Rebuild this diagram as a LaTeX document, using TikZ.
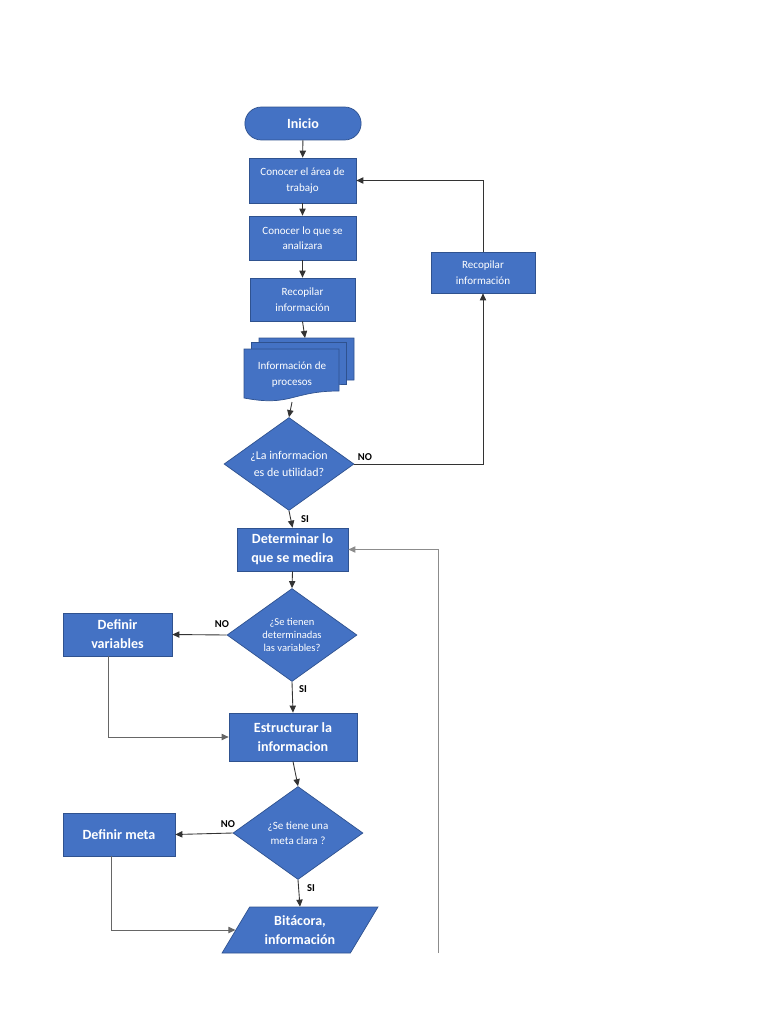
\documentclass[tikz,border=0pt]{standalone}
\usepackage{fontspec}
\setmainfont{Carlito}
\usepackage{tikz}
\usetikzlibrary{shapes, arrows.meta, positioning, calc}
\definecolor{flowblue}{RGB}{68,114,196}
\definecolor{flowedge}{RGB}{47,82,143}
\newcommand{\smalltxt}{\fontsize{6.3}{8.8}\selectfont}
\newcommand{\bigtxt}{\fontsize{8}{10.8}\selectfont\bfseries}
\newcommand{\docpage}[2]{%
  \draw[flowedge, fill=flowblue, line width=0.4pt, shift={(#1,#2)}]
    (244,349) -- (339,349) -- (339,391)
    .. controls (291.5,391) and (291.5,407) .. (244,398) -- cycle;}

\begin{document}
\begin{tikzpicture}[x=0.02cm, y=-0.02cm,
  proc/.style={rectangle, draw=flowedge, fill=flowblue, line width=0.4pt, text=white, align=center, inner sep=1pt, font=\smalltxt},
  big/.style={proc, font=\bigtxt},
  term/.style={rounded rectangle, draw=flowedge, fill=flowblue, line width=0.4pt, text=white, font=\bigtxt, minimum width=2.44cm, minimum height=0.66cm},
  dec/.style={diamond, aspect=1.4, draw=flowedge, fill=flowblue, line width=0.4pt, text=white, align=center, inner sep=0pt, font=\smalltxt, minimum width=2.6cm, minimum height=1.86cm},
  inout/.style={trapezium, trapezium left angle=61, trapezium right angle=119, trapezium stretches=true, draw=flowedge, fill=flowblue, line width=0.4pt, text=white, align=center, font=\bigtxt, minimum width=3.12cm, minimum height=0.92cm},
  lbl/.style={font=\fontsize{6}{7}\selectfont\bfseries, inner sep=0pt},
  arr/.style={-{Triangle[length=4pt, width=3.6pt]}, line width=0.5pt, black!80}
]
\useasboundingbox (0,0) rectangle (768,1024);

% main column
\node[term, minimum width=2.56cm] (ini) at (303,123.5) {Inicio};
\node[proc, minimum width=2.14cm, minimum height=0.9cm] (con1) at (302.5,180.5) {Conocer el área de\\trabajo};
\node[proc, minimum width=2.14cm, minimum height=0.88cm] (con2) at (302.5,238) {Conocer lo que se\\analizara};
\node[proc, minimum width=2.1cm, minimum height=0.86cm] (rec1) at (302.5,299.5) {Recopilar\\información};

% stacked documents
\docpage{15}{-11}
\docpage{7.5}{-6.5}
\docpage{0}{0}
\node[font=\smalltxt, text=white, align=center] (docs) at (292,374.5) {Información de\\procesos};
\coordinate (docsin) at (305,338);
\coordinate (docsout) at (292,402);

\node[dec, font=\fontsize{6.8}{9.6}\selectfont] (dec1) at (289,464) {¿La informacion\\es de utilidad?};
\node[proc, minimum width=2.08cm, minimum height=0.82cm] (rec2) at (483,272.5) {Recopilar\\información};

\node[big, minimum width=2.22cm, minimum height=0.86cm] (det) at (292.5,549.5) {Determinar lo\\que se medira};
\node[dec, font=\fontsize{6}{7.3}\selectfont] (dec2) at (292,635) {¿Se tienen\\determinadas\\las variables?};
\node[big, minimum width=2.18cm, minimum height=0.86cm] (defvar) at (117.5,634.5) {Definir\\variables};
\node[big, minimum width=2.56cm, minimum height=0.96cm] (estr) at (293,737) {Estructurar la\\informacion};
\node[dec] (dec3) at (298,833) {¿Se tiene una\\meta clara ?};
\node[big, minimum width=2.24cm, minimum height=0.86cm] (defmeta) at (119,834.5) {Definir meta};
\node[inout] (bit) at (300,930) {Bitácora,\\información};
\coordinate (loopend) at (438,953);

% labels
\node[lbl] (no1) at (365,457) {NO};
\node[lbl] (si1) at (305,519) {SI};
\node[lbl] (no2) at (222,624) {NO};
\node[lbl] (si2) at (303,689) {SI};
\node[lbl] (no3) at (228,824) {NO};
\node[lbl] (si3) at (311,888) {SI};

% connectors
\draw[arr] (ini) -- (con1);
\draw[arr] (con1) -- (con2);
\draw[arr] (con2) -- (rec1);
\draw[arr] (rec1.south) -- (docsin);
\draw[arr] (docsout) -- (dec1.north);
\draw[arr] (dec1.east) -| (rec2.south);
\draw[arr] (rec2.north) |- (con1.east);
\draw[arr] (dec1.south) -- (det.north);
\draw[arr] (det.south) -- (dec2.north);
\draw[arr] (dec2.west) -- (defvar.east);
\draw[arr] (dec2.south) -- (estr.north);
\draw[arr, black!60] ([xshift=-0.19cm]defvar.south) |- (estr.west);
\draw[arr] (estr.south) -- (dec3.north);
\draw[arr] (dec3.west) -- (defmeta.east);
\draw[arr] (dec3.south) -- (bit.north);
\draw[arr, black!60] ([xshift=-0.16cm]defmeta.south) |- (bit.west);
\draw[arr, black!45] (loopend) |- (det.east);
\end{tikzpicture}
\end{document}
